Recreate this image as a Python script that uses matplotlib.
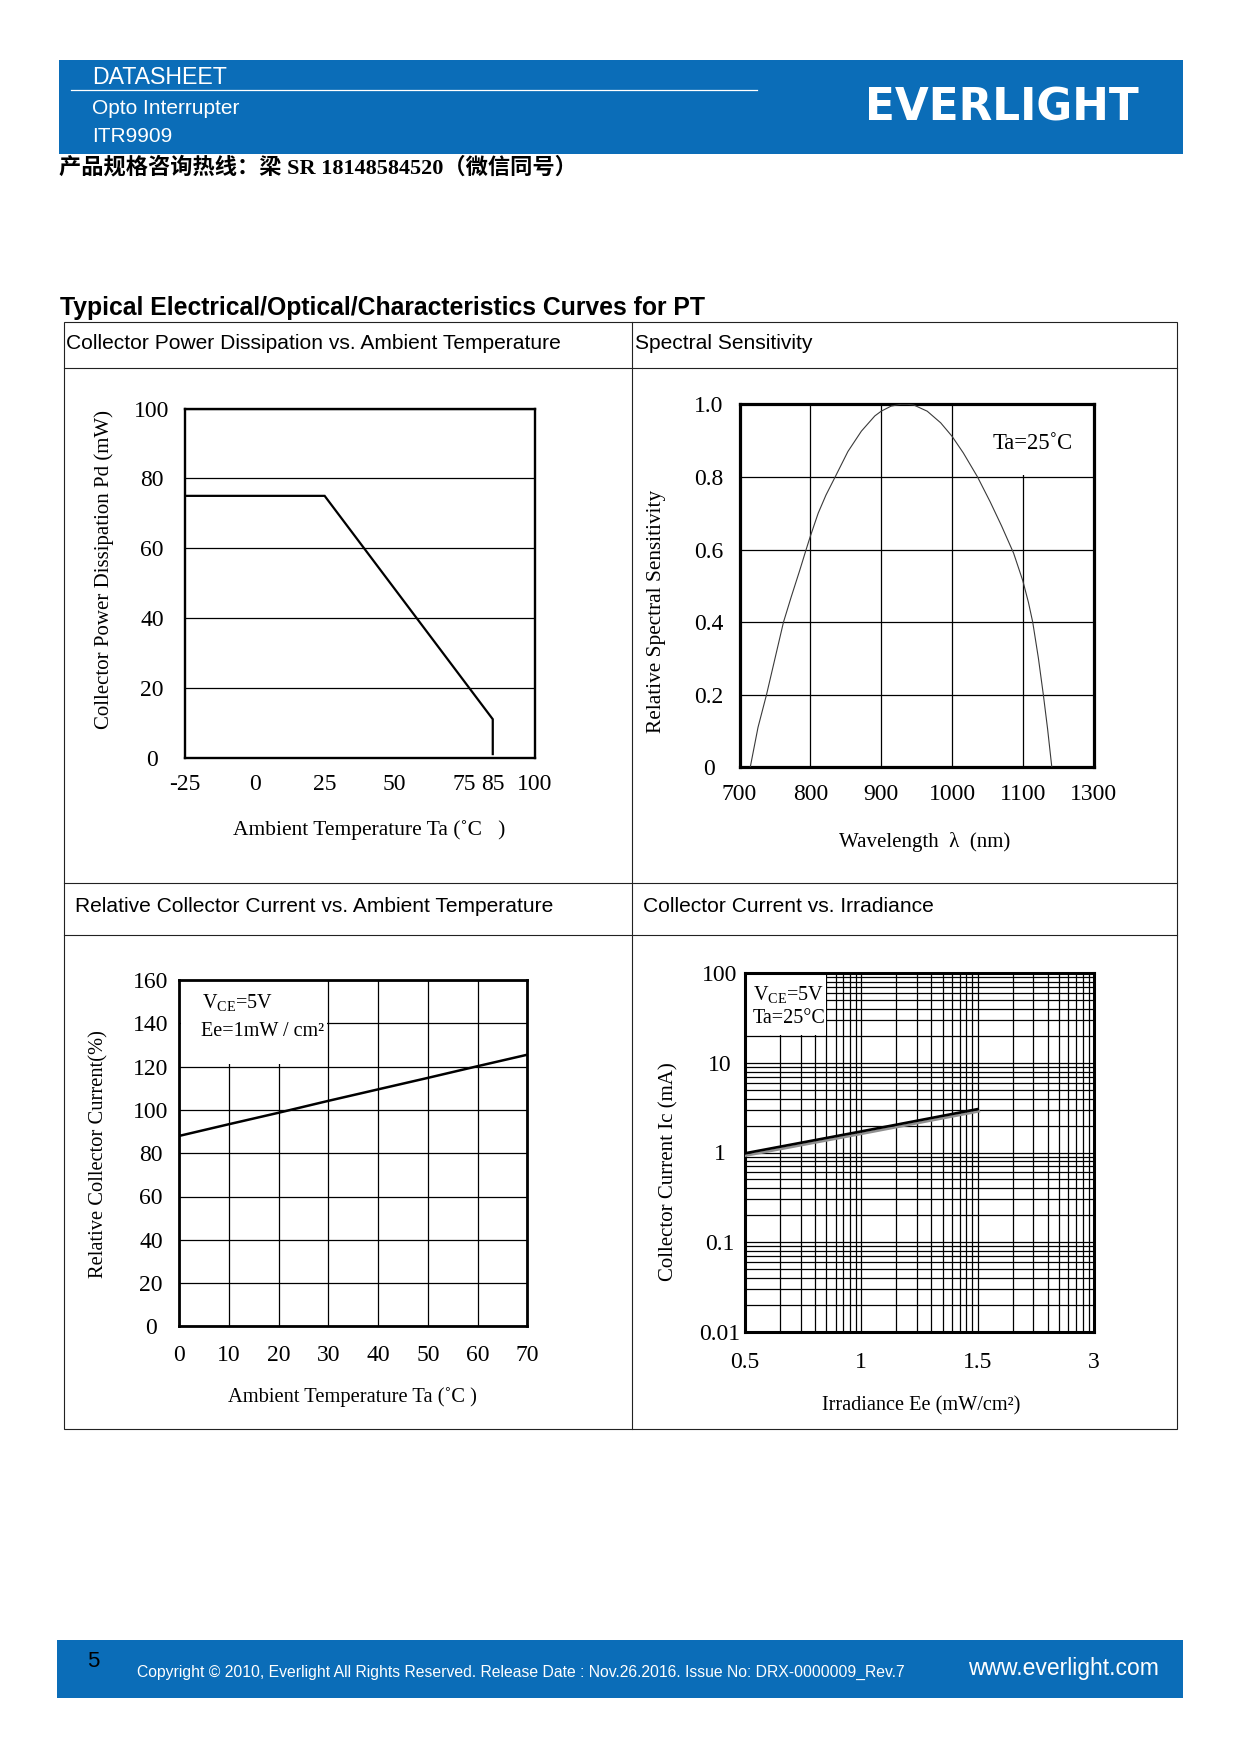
import numpy as np
import matplotlib
matplotlib.use('Agg')
import matplotlib.pyplot as plt
from matplotlib.patches import Rectangle
from matplotlib.ticker import FixedLocator, NullFormatter, LogLocator
import matplotlib.patheffects as pe

plt.rcParams['font.family'] = ['Liberation Serif', 'DejaVu Serif']
plt.rcParams['mathtext.fontset'] = 'custom'
plt.rcParams['mathtext.rm'] = 'Liberation Serif'
plt.rcParams['mathtext.it'] = 'Liberation Serif:italic'
plt.rcParams['mathtext.bf'] = 'Liberation Serif:bold'

# ---------------- data ----------------
# Collector power dissipation vs ambient temperature
pd_temp = [-25, 25, 85, 85]
pd_mw = [75, 75, 11, 1]
pd_xticks = [-25, 0, 25, 50, 75, 85, 100]
pd_xgrid = [0, 25, 50, 75]
pd_yticks = [0, 20, 40, 60, 80, 100]

# Spectral sensitivity
wl_nm = [715, 726, 738, 750, 762, 773, 785, 794, 800, 811, 822, 835, 853, 872, 891,
         900, 914, 928, 937, 946, 965, 984, 1000, 1016, 1036, 1054, 1070, 1087, 1100,
         1108, 1114, 1122, 1129, 1135, 1141]
rel_sens = [0.0, 0.11, 0.2, 0.3, 0.4, 0.47, 0.543, 0.6, 0.637, 0.70, 0.75, 0.8, 0.87,
            0.926, 0.968, 0.981, 0.995, 1.0, 1.0, 0.998, 0.981, 0.949, 0.912, 0.866, 0.8,
            0.731, 0.665, 0.59, 0.514, 0.454, 0.4, 0.301, 0.2, 0.106, 0.0]
wl_ticks = [700, 800, 900, 1000, 1100, 1200]
wl_labels = ['700', '800', '900', '1000', '1100', '1300']
sens_ticks = [0, 0.2, 0.4, 0.6, 0.8, 1.0]
sens_labels = ['0', '0.2', '0.4', '0.6', '0.8', '1.0']

# Relative collector current vs ambient temperature
ta_c = [0, 10, 20, 30, 40, 50, 60, 70]
rel_ic = [88, 93.4, 98.7, 104.2, 109.5, 114.8, 120.2, 125.5]
ta_ticks = [0, 10, 20, 30, 40, 50, 60, 70]
ric_ticks = [0, 20, 40, 60, 80, 100, 120, 140, 160]

# Collector current vs irradiance
ee = [0.5, 1.0, 1.5]
ic_ma = [0.98, 1.72, 3.05]
ee_ticks = [0.5, 1, 1.5, 3]
ee_labels = ['0.5', '1', '1.5', '3']
ic_ticks = [0.01, 0.1, 1, 10, 100]
ic_labels = ['0.01', '0.1', '1', '10', '100']

# ---------------- page ----------------
W, H = 1240, 1754
fig = plt.figure(figsize=(W / 100, H / 100), dpi=100)
fig.patch.set_facecolor('white')
bg = fig.add_axes([0, 0, 1, 1])
bg.set_xlim(0, W)
bg.set_ylim(H, 0)
bg.axis('off')

BLUE = '#0B6DB8'
SANS = ['Liberation Sans', 'DejaVu Sans']

# header band
bg.add_patch(Rectangle((59, 60), 1124, 94, facecolor=BLUE, lw=0))
bg.plot([71, 757], [89.5, 89.5], color='white', lw=0.9)
bg.text(92.5, 84.3, 'DATASHEET', color='white', family=SANS, fontsize=16.7, va='baseline')
bg.text(92.5, 114.3, 'Opto Interrupter', color='white', family=SANS, fontsize=15, va='baseline')
bg.text(92.5, 142.3, 'ITR9909', color='white', family=SANS, fontsize=15, va='baseline')
bg.text(1002, 108, 'EVERLIGHT', color='white', family=['DejaVu Sans'], fontweight='bold',
        fontsize=31.5, va='center', ha='center')
bg.text(59, 174, '产品规格咨询热线：梁 SR 18148584520（微信同号）', color='black',
        family=['Liberation Serif', 'Noto Sans CJK SC'], fontweight='bold', fontsize=16,
        va='baseline')

# section title
bg.text(60, 315, 'Typical Electrical/Optical/Characteristics Curves for PT', family=SANS,
        fontweight='bold', fontsize=17.8, va='baseline')

# table
tc = '#222222'
tlw = 0.8
bg.add_patch(Rectangle((64, 322), 1113, 1107, fill=False, edgecolor=tc, lw=tlw))
bg.plot([632, 632], [322, 1429], color=tc, lw=tlw)
for yy in (368, 883, 935):
    bg.plot([64, 1177], [yy, yy], color=tc, lw=tlw)

bg.text(66, 349.3, 'Collector Power Dissipation vs. Ambient Temperature', family=SANS,
        fontsize=15.1, va='baseline')
bg.text(635, 349.3, 'Spectral Sensitivity', family=SANS, fontsize=15.1, va='baseline')
bg.text(75, 912, 'Relative Collector Current vs. Ambient Temperature', family=SANS,
        fontsize=15.1, va='baseline')
bg.text(643, 912, 'Collector Current vs. Irradiance', family=SANS, fontsize=15.1, va='baseline')

# footer band
bg.add_patch(Rectangle((57, 1640), 1126, 58, facecolor=BLUE, lw=0))
bg.text(87, 1666.7, '5', color='black', family=SANS, fontsize=16, va='baseline')
bg.text(137, 1676.7,
        'Copyright \u00a9 2010, Everlight All Rights Reserved. Release Date : Nov.26.2016. Issue No: DRX-0000009_Rev.7',
        color='white', family=SANS, fontsize=11.3, va='baseline')
bg.text(968, 1675, 'www.everlight.com', color='white', family=SANS, fontsize=16.5, va='baseline')


def rect(x0, y0, x1, y1):
    return [x0 / W, 1 - y1 / H, (x1 - x0) / W, (y1 - y0) / H]


def style(ax, spine_lw, ypad, xpad):
    for s in ax.spines.values():
        s.set_linewidth(spine_lw)
        s.set_color('black')
    ax.tick_params(which='both', length=0, labelsize=17)
    ax.tick_params(axis='y', pad=ypad)
    ax.tick_params(axis='x', pad=xpad)
    ax.set_axisbelow(True)


GRID = dict(color='black', lw=0.9)

# ---------------- chart 1 ----------------
ax1 = fig.add_axes(rect(184.5, 408.6, 534.8, 757.6))
ax1.plot(pd_temp, pd_mw, color='black', lw=1.6, solid_joinstyle='miter')
ax1.set_xlim(-25, 100)
ax1.set_ylim(0, 100)
ax1.set_xticks(pd_xticks)
ax1.set_xticklabels([str(v) for v in pd_xticks])
ax1.xaxis.set_minor_locator(FixedLocator(pd_xgrid))
ax1.set_yticks(pd_yticks)
ax1.set_yticklabels([str(v) for v in pd_yticks], ha='center')
ax1.grid(True, which='minor', axis='x', **GRID)
ax1.grid(True, which='major', axis='y', **GRID)
style(ax1, 1.7, 23.4, 12)
ax1.set_xlabel('Ambient Temperature Ta (\u02daC   )', fontsize=15.5, va='center', ha='center')
ax1.xaxis.set_label_coords(0.527, -0.207)
ax1.set_ylabel('Collector Power Dissipation Pd (mW)', fontsize=15, va='center', ha='center')
ax1.yaxis.set_label_coords(-0.2298, 0.540)

# ---------------- chart 2 ----------------
ax2 = fig.add_axes(rect(739.6, 404.3, 1093.6, 767.3))
ax2.plot(wl_nm, rel_sens, color='#3a3a3a', lw=0.8, zorder=3)
ax2.set_xlim(700, 1200)
ax2.set_ylim(0, 1)
ax2.set_xticks(wl_ticks)
ax2.set_xticklabels(wl_labels)
ax2.set_yticks(sens_ticks)
ax2.set_yticklabels(sens_labels, ha='center')
ax2.grid(True, **GRID)
style(ax2, 2.3, 22, 12.2)
ax2.add_patch(Rectangle((0.606, 0.806), 0.39, 0.19, transform=ax2.transAxes,
                        facecolor='white', lw=0, zorder=1))
ax2.text(0.714, 0.891, 'Ta=25\u02daC', transform=ax2.transAxes, fontsize=16.3,
         va='center', ha='left')
ax2.set_xlabel('Wavelength  \u03bb  (nm)', fontsize=15, va='center', ha='center')
ax2.xaxis.set_label_coords(0.524, -0.206)
ax2.set_ylabel('Relative Spectral Sensitivity', fontsize=15.3, va='center', ha='center')
ax2.yaxis.set_label_coords(-0.236, 0.428)

# ---------------- chart 3 ----------------
ax3 = fig.add_axes(rect(179.3, 980, 527.4, 1326.4))
ax3.plot(ta_c, rel_ic, color='black', lw=1.8, zorder=3)
ax3.set_xlim(0, 70)
ax3.set_ylim(0, 160)
ax3.set_xticks(ta_ticks)
ax3.set_xticklabels([str(v) for v in ta_ticks])
ax3.set_yticks(ric_ticks)
ax3.set_yticklabels([str(v) for v in ric_ticks], ha='center')
ax3.grid(True, **GRID)
style(ax3, 2.0, 20.4, 13.5)
ax3.add_patch(Rectangle((0.004, 0.757), 0.421, 0.24, transform=ax3.transAxes,
                        facecolor='white', lw=0, zorder=1))
ax3.text(0.065, 0.936, r'V$_{\mathrm{CE}}$=5V', transform=ax3.transAxes, fontsize=14.5,
         va='center', ha='left')
ax3.text(0.062, 0.85, 'Ee=1mW / cm\u00b2', transform=ax3.transAxes, fontsize=14.5,
         va='center', ha='left')
ax3.set_xlabel('Ambient Temperature Ta (\u02daC )', fontsize=14.8, va='center', ha='center')
ax3.xaxis.set_label_coords(0.496, -0.204)
ax3.set_ylabel('Relative Collector Current(%)', fontsize=14.8, va='center', ha='center')
ax3.yaxis.set_label_coords(-0.231, 0.498)

# ---------------- chart 4 ----------------
dec_pos = [0, 1, 2, 3]


def fwd(x):
    return np.interp(x, ee_ticks, dec_pos)


def inv(d):
    return np.interp(d, dec_pos, ee_ticks)


ax4 = fig.add_axes(rect(745, 973.3, 1094, 1331.7))
ax4.set_xscale('function', functions=(fwd, inv))
ax4.set_yscale('log')
ax4.set_xlim(0.5, 3)
ax4.set_ylim(0.01, 100)
ax4.set_xticks(ee_ticks)
ax4.set_xticklabels(ee_labels)
minor_x = [float(inv(d + np.log10(k))) for d in range(3) for k in range(2, 10)]
ax4.xaxis.set_minor_locator(FixedLocator(minor_x))
ax4.xaxis.set_minor_formatter(NullFormatter())
ax4.set_yticks(ic_ticks)
ax4.set_yticklabels(ic_labels, ha='center')
ax4.yaxis.set_minor_locator(LogLocator(base=10, subs=range(2, 10)))
ax4.yaxis.set_minor_formatter(NullFormatter())
ax4.grid(True, which='both', **GRID)
style(ax4, 2.2, 18, 14.5)
ax4.add_patch(Rectangle((0.004, 0.828), 0.228, 0.169, transform=ax4.transAxes,
                        facecolor='white', lw=0, zorder=1))
ax4.plot(ee, ic_ma, color='black', lw=1.9, zorder=3,
         path_effects=[pe.SimpleLineShadow(offset=(0.8, -1.6), shadow_color='#909090', alpha=1.0),
                       pe.Normal()])
ax4.text(0.023, 0.942, r'V$_{\mathrm{CE}}$=5V', transform=ax4.transAxes, fontsize=14.5,
         va='center', ha='left')
ax4.text(0.023, 0.875, 'Ta=25\u00b0C', transform=ax4.transAxes, fontsize=14.5,
         va='center', ha='left')
ax4.set_xlabel('Irradiance Ee (mW/cm\u00b2)', fontsize=14.6, va='center', ha='center')
ax4.xaxis.set_label_coords(0.504, -0.207)
ax4.set_ylabel('Collector Current Ic (mA)', fontsize=15, va='center', ha='center')
ax4.yaxis.set_label_coords(-0.218, 0.446)

fig.savefig('out.png', dpi=100)
